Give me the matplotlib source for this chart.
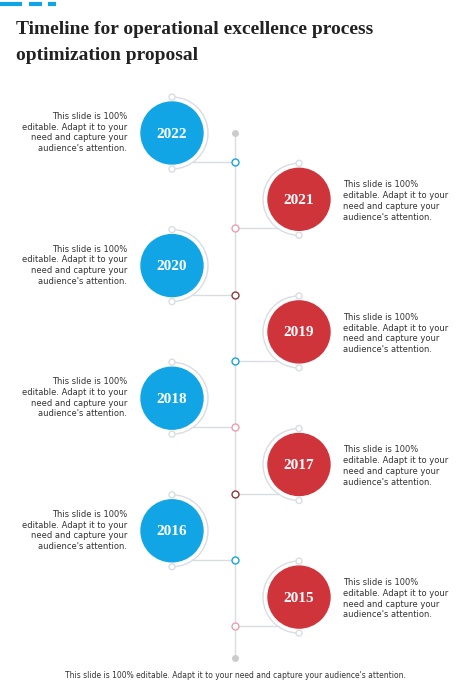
import numpy as np
import matplotlib.pyplot as plt
from matplotlib.patches import Circle, Arc

TITLE = ["Timeline for operational excellence process", "optimization proposal"]
YEARS = ["2022", "2021", "2020", "2019", "2018", "2017", "2016", "2015"]
BLURB = "This slide is 100%\neditable. Adapt it to your\nneed and capture your\naudience's attention."
FOOTER = "This slide is 100% editable. Adapt it to your need and capture your audience's attention."
MARKER_COLORS = ["#1aa3e0", "#e8a0b0", "#8b3a3a", "#1aa3e0", "#e8a0b0", "#8b3a3a", "#1aa3e0", "#e8a0b0"]

BLUE = "#12a5e6"
RED = "#d0343b"
LINE = "#d9dde2"

fig = plt.figure(figsize=(4.74, 6.84), dpi=100)
ax = fig.add_axes([0, 0, 1, 1])
ax.set_xlim(0, 474)
ax.set_ylim(684, 0)
ax.axis("off")

# top dashes
for x0, x1 in [(0, 22), (29, 42), (48, 56)]:
	ax.plot([x0, x1], [4, 4], color=BLUE, lw=3, solid_capstyle="butt")

ax.text(16, 30, TITLE[0], fontsize=14, fontweight="bold", family="Liberation Serif",
	color="#222222", va="center")
ax.text(16, 55, TITLE[1], fontsize=14, fontweight="bold", family="Liberation Serif",
	color="#222222", va="center")

x_line = 235
ax.plot([x_line, x_line], [133, 658], color=LINE, lw=1, zorder=1)
ax.plot([x_line, x_line], [133, 658], "o", color="#cccccc", ms=4, ls="none", zorder=2)

r, r_out = 31, 36
for i, year in enumerate(YEARS):
	left = i % 2 == 0
	cx = 172 if left else 299
	cy = 133 + i * 66.3
	my = cy + 29
	color = BLUE if left else RED
	if left:
		arc = Arc((cx, cy), 2 * r_out, 2 * r_out, theta1=-90, theta2=90, color=LINE, lw=1)
		ang = np.arccos(-np.sqrt(1 - (29 / r_out) ** 2))
		ex = cx + np.sqrt(r_out ** 2 - 29 ** 2)
	else:
		arc = Arc((cx, cy), 2 * r_out, 2 * r_out, theta1=90, theta2=270, color=LINE, lw=1)
		ex = cx - np.sqrt(r_out ** 2 - 29 ** 2)
	ax.add_patch(arc)
	for ey in (cy - r_out, cy + r_out):
		ax.add_patch(Circle((cx, ey), 3, facecolor="white", edgecolor=LINE, lw=1, zorder=3))
	ax.plot([ex, x_line], [my, my], color=LINE, lw=1, zorder=1)
	ax.plot(x_line, my, "o", mfc="white", mec=MARKER_COLORS[i], ms=5, mew=1, zorder=4)
	ax.add_patch(Circle((cx, cy), r, color=color, zorder=3))
	ax.text(cx, cy + 1, year, fontsize=11, fontweight="bold", family="Liberation Serif",
		color="white", ha="center", va="center", zorder=5)
	if left:
		ax.text(127, cy - 21, BLURB, fontsize=6, color="#333333", ha="right", va="top",
			linespacing=1.25)
	else:
		ax.text(343, cy - 19, BLURB, fontsize=6, color="#333333", ha="left", va="top",
			linespacing=1.25)

ax.text(235, 676, FOOTER, fontsize=5.5, color="#333333", ha="center", va="center")

fig.savefig("out.png", dpi=100)
